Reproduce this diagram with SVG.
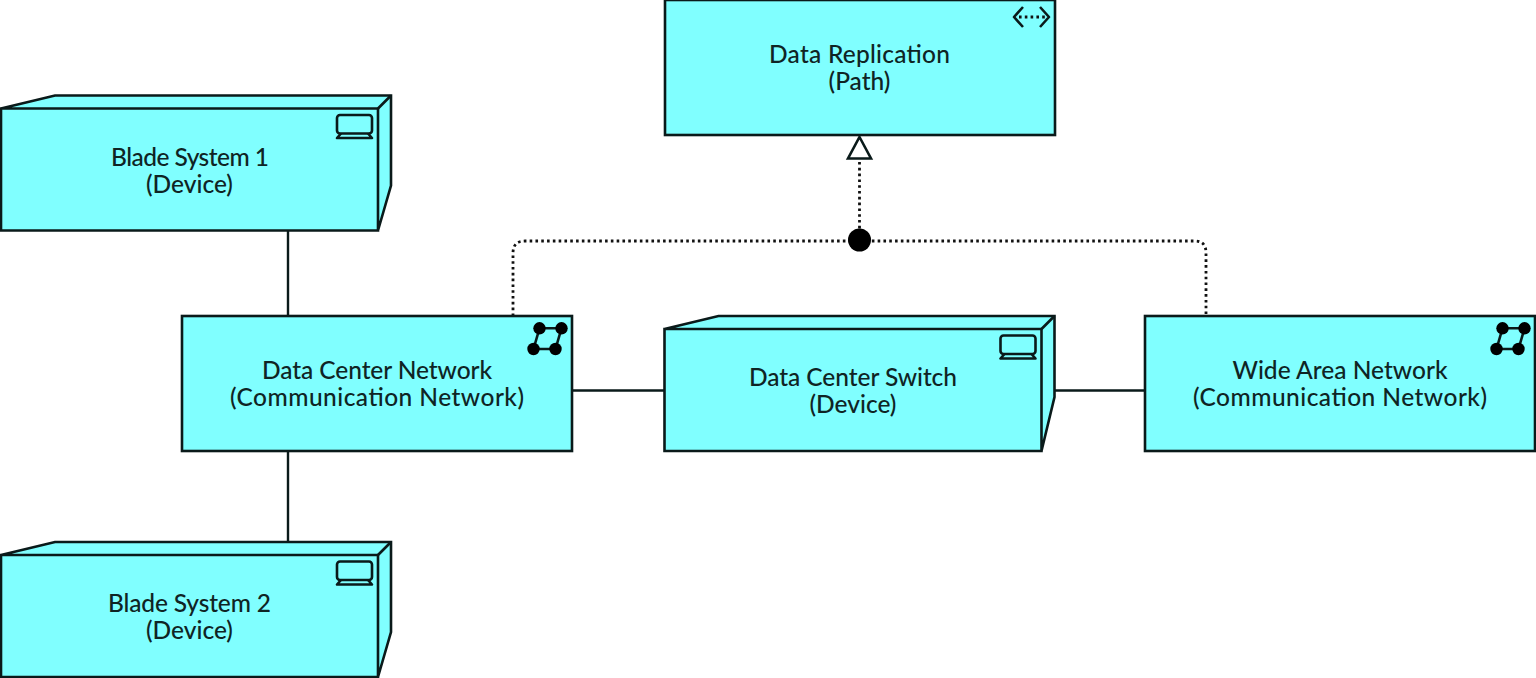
<svg xmlns="http://www.w3.org/2000/svg" width="1536" height="678" viewBox="0 0 1536 678">
<style>
.n{fill:#80ffff;stroke:#0a1a1a;stroke-width:2.6;stroke-linejoin:miter}
.e{fill:none;stroke:#0a1a1a;stroke-width:2.6;stroke-linejoin:miter}
.i{fill:none;stroke:#0a1a1a;stroke-width:2.6;stroke-linejoin:round}
.c{fill:none;stroke:#0a1a1a;stroke-width:2.4}
.d{fill:none;stroke:#111;stroke-width:2.8;stroke-dasharray:2.6 3.2}
text{font-family:"Lato","Liberation Sans",sans-serif;font-size:24.5px;font-weight:500;fill:#0f2424;text-anchor:middle}
</style>
<defs>
<g id="lap"><rect class="i" x="337" y="19.500" width="35" height="18.500" rx="3"/><path class="i" d="M341 38L337 42.500H372L368 38"/></g>
<g id="net"><path class="i" d="M0 -1.700H22L16 19H-6Z"/><circle cx="0" cy="-1.700" r="6.200" fill="#000"/><circle cx="22" cy="-1.700" r="6.200" fill="#000"/><circle cx="-6" cy="19" r="6.200" fill="#000"/><circle cx="16" cy="19" r="6.200" fill="#000"/></g>
</defs>
<g id="connectors">
<path class="c" d="M288 230V316M288 451V542M572 390.500H664M1055 390.500H1145"/>
<path class="d" d="M513 316V253Q513 241 525 241H860H1195Q1206 241 1206 253V316"/>
<path class="d" d="M859.500 240V160"/>
<path d="M859.500 137L871 158.500H848Z" fill="#fff" stroke="#0a1a1a" stroke-width="2.600"/>
<circle cx="859.500" cy="240" r="11.500" fill="#000"/>
</g>
<g id="path"><rect class="n" x="665" y="0" width="390" height="135"/>
<path class="i" d="M1023 7L1014 17L1023 27M1040 7L1049 17L1040 27"/><path class="d" d="M1019 17H1045"/>
<text x="859.500" y="63" textLength="181">Data Replication</text><text x="859.500" y="90">(Path)</text></g>
<g id="blade1" transform="translate(0 95.500)"><path class="n" d="M1 13L55 0H391V90L378 135V13ZM1 13H378V135H1Z"/><path class="e" d="M378 13L391 0"/><use href="#lap"/><text x="190" y="70" textLength="158">Blade System 1</text><text x="189.500" y="97">(Device)</text></g>
<g id="blade2" transform="translate(0 542)"><path class="n" d="M1 13L55 0H391V90L378 135V13ZM1 13H378V135H1Z"/><path class="e" d="M378 13L391 0"/><use href="#lap"/><text x="189.500" y="70" textLength="163">Blade System 2</text><text x="189.500" y="97">(Device)</text></g>
<g id="dcn"><rect class="n" x="182" y="316" width="390" height="135"/><use href="#net" transform="translate(539.500 330)"/><text x="377" y="379" textLength="230">Data Center Network</text><text x="377" y="406" textLength="294">(Communication Network)</text></g>
<g id="switch" transform="translate(663.500 316)"><path class="n" d="M1 13L55 0H391V81L378 135V13ZM1 13H378V135H1Z"/><path class="e" d="M378 13L391 0"/><use href="#lap"/><text x="189.500" y="70" textLength="208">Data Center Switch</text><text x="189.500" y="97">(Device)</text></g>
<g id="wan"><rect class="n" x="1145" y="316" width="390" height="135"/><use href="#net" transform="translate(1502.500 330)"/><text x="1340" y="379" textLength="215">Wide Area Network</text><text x="1340" y="406" textLength="294">(Communication Network)</text></g>
</svg>
